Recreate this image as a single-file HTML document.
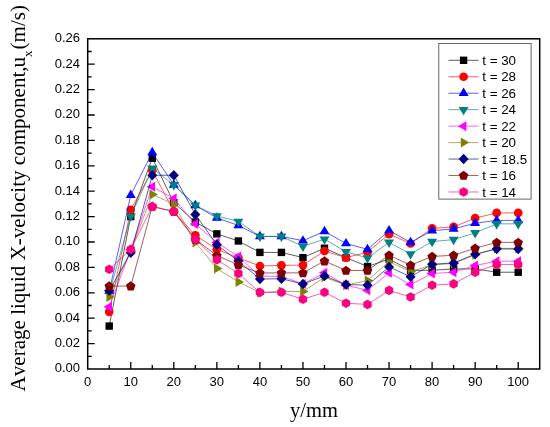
<!DOCTYPE html>
<html><head><meta charset="utf-8"><title>Average liquid X-velocity component</title>
<style>html,body{margin:0;padding:0;background:#fff}svg{display:block}</style></head>
<body>
<svg width="550" height="427" viewBox="0 0 550 427">
<rect width="550" height="427" fill="#fff"/>
<polyline points="109.22,326.07 130.75,216.6 152.27,158.18 173.8,202.63 195.32,222.06 216.85,233.87 238.38,240.98 259.9,252.41 281.43,252.41 302.95,257.62 324.47,248.22 346,257.62 367.52,266.51 389.05,259.02 410.57,270.45 432.1,270.19 453.62,268.92 475.15,268.92 496.67,272.23 518.2,272.23" fill="none" stroke="#000000" stroke-width="0.75" stroke-opacity="0.85"/>
<rect x="105.52" y="322.37" width="7.4" height="7.4" fill="#000000"/>
<rect x="127.05" y="212.9" width="7.4" height="7.4" fill="#000000"/>
<rect x="148.57" y="154.48" width="7.4" height="7.4" fill="#000000"/>
<rect x="170.1" y="198.93" width="7.4" height="7.4" fill="#000000"/>
<rect x="191.62" y="218.36" width="7.4" height="7.4" fill="#000000"/>
<rect x="213.15" y="230.17" width="7.4" height="7.4" fill="#000000"/>
<rect x="234.68" y="237.28" width="7.4" height="7.4" fill="#000000"/>
<rect x="256.2" y="248.71" width="7.4" height="7.4" fill="#000000"/>
<rect x="277.73" y="248.71" width="7.4" height="7.4" fill="#000000"/>
<rect x="299.25" y="253.92" width="7.4" height="7.4" fill="#000000"/>
<rect x="320.77" y="244.52" width="7.4" height="7.4" fill="#000000"/>
<rect x="342.3" y="253.92" width="7.4" height="7.4" fill="#000000"/>
<rect x="363.82" y="262.81" width="7.4" height="7.4" fill="#000000"/>
<rect x="385.35" y="255.32" width="7.4" height="7.4" fill="#000000"/>
<rect x="406.88" y="266.75" width="7.4" height="7.4" fill="#000000"/>
<rect x="428.4" y="266.49" width="7.4" height="7.4" fill="#000000"/>
<rect x="449.92" y="265.22" width="7.4" height="7.4" fill="#000000"/>
<rect x="471.45" y="265.22" width="7.4" height="7.4" fill="#000000"/>
<rect x="492.97" y="268.53" width="7.4" height="7.4" fill="#000000"/>
<rect x="514.5" y="268.53" width="7.4" height="7.4" fill="#000000"/>
<polyline points="109.22,311.85 130.75,209.87 152.27,170.37 173.8,211.52 195.32,235.27 216.85,249.37 238.38,257.88 259.9,266 281.43,265.37 302.95,265.11 324.47,251.02 346,257.62 367.52,252.16 389.05,234.13 410.57,243.52 432.1,228.41 453.62,226.89 475.15,218.12 496.67,212.92 518.2,212.92" fill="none" stroke="#ff0000" stroke-width="0.75" stroke-opacity="0.85"/>
<circle cx="109.22" cy="311.85" r="4.35" fill="#ff0000"/>
<circle cx="130.75" cy="209.87" r="4.35" fill="#ff0000"/>
<circle cx="152.27" cy="170.37" r="4.35" fill="#ff0000"/>
<circle cx="173.8" cy="211.52" r="4.35" fill="#ff0000"/>
<circle cx="195.32" cy="235.27" r="4.35" fill="#ff0000"/>
<circle cx="216.85" cy="249.37" r="4.35" fill="#ff0000"/>
<circle cx="238.38" cy="257.88" r="4.35" fill="#ff0000"/>
<circle cx="259.9" cy="266" r="4.35" fill="#ff0000"/>
<circle cx="281.43" cy="265.37" r="4.35" fill="#ff0000"/>
<circle cx="302.95" cy="265.11" r="4.35" fill="#ff0000"/>
<circle cx="324.47" cy="251.02" r="4.35" fill="#ff0000"/>
<circle cx="346" cy="257.62" r="4.35" fill="#ff0000"/>
<circle cx="367.52" cy="252.16" r="4.35" fill="#ff0000"/>
<circle cx="389.05" cy="234.13" r="4.35" fill="#ff0000"/>
<circle cx="410.57" cy="243.52" r="4.35" fill="#ff0000"/>
<circle cx="432.1" cy="228.41" r="4.35" fill="#ff0000"/>
<circle cx="453.62" cy="226.89" r="4.35" fill="#ff0000"/>
<circle cx="475.15" cy="218.12" r="4.35" fill="#ff0000"/>
<circle cx="496.67" cy="212.92" r="4.35" fill="#ff0000"/>
<circle cx="518.2" cy="212.92" r="4.35" fill="#ff0000"/>
<polyline points="109.22,291.28 130.75,195.14 152.27,152.46 173.8,184.85 195.32,205.42 216.85,217.87 238.38,225.49 259.9,236.41 281.43,236.41 302.95,240.73 324.47,231.33 346,243.52 367.52,249.37 389.05,230.57 410.57,242.38 432.1,230.7 453.62,228.92 475.15,223.2 496.67,220.41 518.2,220.41" fill="none" stroke="#0000ff" stroke-width="0.75" stroke-opacity="0.85"/>
<polygon points="109.22,285.68 114.22,294.08 104.22,294.08" fill="#0000ff"/>
<polygon points="130.75,189.54 135.75,197.94 125.75,197.94" fill="#0000ff"/>
<polygon points="152.27,146.86 157.27,155.26 147.27,155.26" fill="#0000ff"/>
<polygon points="173.8,179.25 178.8,187.65 168.8,187.65" fill="#0000ff"/>
<polygon points="195.32,199.82 200.32,208.22 190.32,208.22" fill="#0000ff"/>
<polygon points="216.85,212.27 221.85,220.67 211.85,220.67" fill="#0000ff"/>
<polygon points="238.38,219.89 243.38,228.29 233.38,228.29" fill="#0000ff"/>
<polygon points="259.9,230.81 264.9,239.21 254.9,239.21" fill="#0000ff"/>
<polygon points="281.43,230.81 286.43,239.21 276.43,239.21" fill="#0000ff"/>
<polygon points="302.95,235.13 307.95,243.53 297.95,243.53" fill="#0000ff"/>
<polygon points="324.47,225.73 329.47,234.13 319.47,234.13" fill="#0000ff"/>
<polygon points="346,237.92 351,246.32 341,246.32" fill="#0000ff"/>
<polygon points="367.52,243.77 372.52,252.17 362.52,252.17" fill="#0000ff"/>
<polygon points="389.05,224.97 394.05,233.37 384.05,233.37" fill="#0000ff"/>
<polygon points="410.57,236.78 415.57,245.18 405.57,245.18" fill="#0000ff"/>
<polygon points="432.1,225.1 437.1,233.5 427.1,233.5" fill="#0000ff"/>
<polygon points="453.62,223.32 458.62,231.72 448.62,231.72" fill="#0000ff"/>
<polygon points="475.15,217.6 480.15,226 470.15,226" fill="#0000ff"/>
<polygon points="496.67,214.81 501.67,223.21 491.67,223.21" fill="#0000ff"/>
<polygon points="518.2,214.81 523.2,223.21 513.2,223.21" fill="#0000ff"/>
<polyline points="109.22,293.18 130.75,216.22 152.27,168.34 173.8,184.85 195.32,205.42 216.85,215.97 238.38,221.43 259.9,236.41 281.43,236.41 302.95,246.32 324.47,239.21 346,251.78 367.52,258 389.05,242.38 410.57,254.06 432.1,241.62 453.62,239.59 475.15,232.86 496.67,223.84 518.2,223.84" fill="none" stroke="#008080" stroke-width="0.75" stroke-opacity="0.85"/>
<polygon points="109.22,298.78 114.22,290.38 104.22,290.38" fill="#008080"/>
<polygon points="130.75,221.82 135.75,213.42 125.75,213.42" fill="#008080"/>
<polygon points="152.27,173.94 157.27,165.54 147.27,165.54" fill="#008080"/>
<polygon points="173.8,190.45 178.8,182.05 168.8,182.05" fill="#008080"/>
<polygon points="195.32,211.02 200.32,202.62 190.32,202.62" fill="#008080"/>
<polygon points="216.85,221.56 221.85,213.16 211.85,213.16" fill="#008080"/>
<polygon points="238.38,227.03 243.38,218.63 233.38,218.63" fill="#008080"/>
<polygon points="259.9,242.01 264.9,233.61 254.9,233.61" fill="#008080"/>
<polygon points="281.43,242.01 286.43,233.61 276.43,233.61" fill="#008080"/>
<polygon points="302.95,251.92 307.95,243.52 297.95,243.52" fill="#008080"/>
<polygon points="324.47,244.81 329.47,236.41 319.47,236.41" fill="#008080"/>
<polygon points="346,257.38 351,248.98 341,248.98" fill="#008080"/>
<polygon points="367.52,263.6 372.52,255.2 362.52,255.2" fill="#008080"/>
<polygon points="389.05,247.98 394.05,239.58 384.05,239.58" fill="#008080"/>
<polygon points="410.57,259.67 415.57,251.26 405.57,251.26" fill="#008080"/>
<polygon points="432.1,247.22 437.1,238.82 427.1,238.82" fill="#008080"/>
<polygon points="453.62,245.19 458.62,236.79 448.62,236.79" fill="#008080"/>
<polygon points="475.15,238.46 480.15,230.06 470.15,230.06" fill="#008080"/>
<polygon points="496.67,229.44 501.67,221.04 491.67,221.04" fill="#008080"/>
<polygon points="518.2,229.44 523.2,221.04 513.2,221.04" fill="#008080"/>
<polyline points="109.22,306.77 130.75,249.62 152.27,186.76 173.8,198.44 195.32,223.97 216.85,242.38 238.38,256.61 259.9,276.29 281.43,276.29 302.95,283.91 324.47,272.86 346,285.18 367.52,290.26 389.05,272.86 410.57,284.55 432.1,273.5 453.62,272.23 475.15,265.5 496.67,261.18 518.2,261.18" fill="none" stroke="#ff00ff" stroke-width="0.75" stroke-opacity="0.85"/>
<polygon points="103.62,306.77 112.02,311.77 112.02,301.77" fill="#ff00ff"/>
<polygon points="125.15,249.62 133.55,254.62 133.55,244.62" fill="#ff00ff"/>
<polygon points="146.67,186.76 155.07,191.76 155.07,181.76" fill="#ff00ff"/>
<polygon points="168.2,198.44 176.6,203.44 176.6,193.44" fill="#ff00ff"/>
<polygon points="189.72,223.97 198.12,228.97 198.12,218.97" fill="#ff00ff"/>
<polygon points="211.25,242.38 219.65,247.38 219.65,237.38" fill="#ff00ff"/>
<polygon points="232.78,256.61 241.18,261.61 241.18,251.61" fill="#ff00ff"/>
<polygon points="254.3,276.29 262.7,281.29 262.7,271.29" fill="#ff00ff"/>
<polygon points="275.82,276.29 284.23,281.29 284.23,271.29" fill="#ff00ff"/>
<polygon points="297.35,283.91 305.75,288.91 305.75,278.91" fill="#ff00ff"/>
<polygon points="318.87,272.86 327.27,277.86 327.27,267.86" fill="#ff00ff"/>
<polygon points="340.4,285.18 348.8,290.18 348.8,280.18" fill="#ff00ff"/>
<polygon points="361.92,290.26 370.32,295.26 370.32,285.26" fill="#ff00ff"/>
<polygon points="383.45,272.86 391.85,277.86 391.85,267.86" fill="#ff00ff"/>
<polygon points="404.97,284.55 413.38,289.55 413.38,279.55" fill="#ff00ff"/>
<polygon points="426.5,273.5 434.9,278.5 434.9,268.5" fill="#ff00ff"/>
<polygon points="448.02,272.23 456.42,277.23 456.42,267.23" fill="#ff00ff"/>
<polygon points="469.55,265.5 477.95,270.5 477.95,260.5" fill="#ff00ff"/>
<polygon points="491.07,261.18 499.47,266.18 499.47,256.18" fill="#ff00ff"/>
<polygon points="512.6,261.18 521,266.18 521,256.18" fill="#ff00ff"/>
<polyline points="109.22,297.12 130.75,250.89 152.27,194.38 173.8,204.15 195.32,242.51 216.85,268.42 238.38,281.88 259.9,292.42 281.43,291.53 302.95,291.53 324.47,277.31 346,285.18 367.52,280.48 389.05,261.69 410.57,271.59 432.1,264.86 453.62,263.59 475.15,254.7 496.67,248.35 518.2,248.35" fill="none" stroke="#808000" stroke-width="0.75" stroke-opacity="0.85"/>
<polygon points="114.82,297.12 106.42,302.12 106.42,292.12" fill="#808000"/>
<polygon points="136.35,250.89 127.95,255.89 127.95,245.89" fill="#808000"/>
<polygon points="157.87,194.38 149.47,199.38 149.47,189.38" fill="#808000"/>
<polygon points="179.4,204.15 171,209.15 171,199.15" fill="#808000"/>
<polygon points="200.92,242.51 192.52,247.51 192.52,237.51" fill="#808000"/>
<polygon points="222.45,268.42 214.05,273.42 214.05,263.42" fill="#808000"/>
<polygon points="243.97,281.88 235.57,286.88 235.57,276.88" fill="#808000"/>
<polygon points="265.5,292.42 257.1,297.42 257.1,287.42" fill="#808000"/>
<polygon points="287.03,291.53 278.62,296.53 278.62,286.53" fill="#808000"/>
<polygon points="308.55,291.53 300.15,296.53 300.15,286.53" fill="#808000"/>
<polygon points="330.07,277.31 321.67,282.31 321.67,272.31" fill="#808000"/>
<polygon points="351.6,285.18 343.2,290.18 343.2,280.18" fill="#808000"/>
<polygon points="373.12,280.48 364.72,285.48 364.72,275.48" fill="#808000"/>
<polygon points="394.65,261.69 386.25,266.69 386.25,256.69" fill="#808000"/>
<polygon points="416.18,271.59 407.77,276.59 407.77,266.59" fill="#808000"/>
<polygon points="437.7,264.86 429.3,269.86 429.3,259.86" fill="#808000"/>
<polygon points="459.22,263.59 450.82,268.59 450.82,258.59" fill="#808000"/>
<polygon points="480.75,254.7 472.35,259.7 472.35,249.7" fill="#808000"/>
<polygon points="502.27,248.35 493.87,253.35 493.87,243.35" fill="#808000"/>
<polygon points="523.8,248.35 515.4,253.35 515.4,243.35" fill="#808000"/>
<polyline points="109.22,290.64 130.75,252.8 152.27,175.33 173.8,175.2 195.32,214.44 216.85,244.79 238.38,261.05 259.9,279.08 281.43,278.7 302.95,284.04 324.47,275.91 346,284.55 367.52,285.18 389.05,266.89 410.57,276.8 432.1,264.23 453.62,262.95 475.15,254.19 496.67,248.99 518.2,248.99" fill="none" stroke="#000080" stroke-width="0.75" stroke-opacity="0.85"/>
<polygon points="109.22,285.44 114.22,290.64 109.22,295.84 104.22,290.64" fill="#000080"/>
<polygon points="130.75,247.6 135.75,252.8 130.75,258 125.75,252.8" fill="#000080"/>
<polygon points="152.27,170.13 157.27,175.33 152.27,180.53 147.27,175.33" fill="#000080"/>
<polygon points="173.8,170 178.8,175.2 173.8,180.4 168.8,175.2" fill="#000080"/>
<polygon points="195.32,209.24 200.32,214.44 195.32,219.64 190.32,214.44" fill="#000080"/>
<polygon points="216.85,239.59 221.85,244.79 216.85,249.99 211.85,244.79" fill="#000080"/>
<polygon points="238.38,255.85 243.38,261.05 238.38,266.25 233.38,261.05" fill="#000080"/>
<polygon points="259.9,273.88 264.9,279.08 259.9,284.28 254.9,279.08" fill="#000080"/>
<polygon points="281.43,273.5 286.43,278.7 281.43,283.9 276.43,278.7" fill="#000080"/>
<polygon points="302.95,278.84 307.95,284.04 302.95,289.24 297.95,284.04" fill="#000080"/>
<polygon points="324.47,270.71 329.47,275.91 324.47,281.11 319.47,275.91" fill="#000080"/>
<polygon points="346,279.35 351,284.55 346,289.75 341,284.55" fill="#000080"/>
<polygon points="367.52,279.98 372.52,285.18 367.52,290.38 362.52,285.18" fill="#000080"/>
<polygon points="389.05,261.69 394.05,266.89 389.05,272.09 384.05,266.89" fill="#000080"/>
<polygon points="410.57,271.6 415.57,276.8 410.57,282 405.57,276.8" fill="#000080"/>
<polygon points="432.1,259.03 437.1,264.23 432.1,269.43 427.1,264.23" fill="#000080"/>
<polygon points="453.62,257.75 458.62,262.95 453.62,268.15 448.62,262.95" fill="#000080"/>
<polygon points="475.15,248.99 480.15,254.19 475.15,259.39 470.15,254.19" fill="#000080"/>
<polygon points="496.67,243.79 501.67,248.99 496.67,254.19 491.67,248.99" fill="#000080"/>
<polygon points="518.2,243.79 523.2,248.99 518.2,254.19 513.2,248.99" fill="#000080"/>
<polyline points="109.22,286.07 130.75,286.07 152.27,206.44 173.8,211.52 195.32,239.46 216.85,255.46 238.38,264.99 259.9,272.99 281.43,272.86 302.95,272.86 324.47,261.05 346,270.45 367.52,270.45 389.05,255.21 410.57,265.11 432.1,256.48 453.62,255.21 475.15,248.22 496.67,242.38 518.2,242.38" fill="none" stroke="#800000" stroke-width="0.75" stroke-opacity="0.85"/>
<polygon points="109.22,281.37 113.98,284.82 112.16,290.41 106.29,290.41 104.47,284.82" fill="#800000"/>
<polygon points="130.75,281.37 135.51,284.82 133.69,290.41 127.81,290.41 125.99,284.82" fill="#800000"/>
<polygon points="152.27,201.74 157.03,205.19 155.21,210.79 149.34,210.79 147.52,205.19" fill="#800000"/>
<polygon points="173.8,206.82 178.56,210.27 176.74,215.87 170.86,215.87 169.04,210.27" fill="#800000"/>
<polygon points="195.32,234.76 200.08,238.21 198.26,243.81 192.39,243.81 190.57,238.21" fill="#800000"/>
<polygon points="216.85,250.76 221.61,254.22 219.79,259.81 213.91,259.81 212.09,254.22" fill="#800000"/>
<polygon points="238.38,260.29 243.13,263.74 241.31,269.33 235.44,269.33 233.62,263.74" fill="#800000"/>
<polygon points="259.9,268.29 264.66,271.74 262.84,277.33 256.96,277.33 255.14,271.74" fill="#800000"/>
<polygon points="281.43,268.16 286.18,271.62 284.36,277.21 278.49,277.21 276.67,271.62" fill="#800000"/>
<polygon points="302.95,268.16 307.71,271.62 305.89,277.21 300.01,277.21 298.19,271.62" fill="#800000"/>
<polygon points="324.47,256.35 329.23,259.8 327.41,265.4 321.54,265.4 319.72,259.8" fill="#800000"/>
<polygon points="346,265.75 350.76,269.2 348.94,274.79 343.06,274.79 341.24,269.2" fill="#800000"/>
<polygon points="367.52,265.75 372.28,269.2 370.46,274.79 364.59,274.79 362.77,269.2" fill="#800000"/>
<polygon points="389.05,250.51 393.81,253.96 391.99,259.55 386.11,259.55 384.29,253.96" fill="#800000"/>
<polygon points="410.57,260.41 415.33,263.87 413.51,269.46 407.64,269.46 405.82,263.87" fill="#800000"/>
<polygon points="432.1,251.78 436.86,255.23 435.04,260.82 429.16,260.82 427.34,255.23" fill="#800000"/>
<polygon points="453.62,250.51 458.38,253.96 456.56,259.55 450.69,259.55 448.87,253.96" fill="#800000"/>
<polygon points="475.15,243.52 479.91,246.98 478.09,252.57 472.21,252.57 470.39,246.98" fill="#800000"/>
<polygon points="496.67,237.68 501.43,241.14 499.61,246.73 493.74,246.73 491.92,241.14" fill="#800000"/>
<polygon points="518.2,237.68 522.96,241.14 521.14,246.73 515.26,246.73 513.44,241.14" fill="#800000"/>
<polyline points="109.22,269.31 130.75,249.37 152.27,206.57 173.8,211.52 195.32,239.46 216.85,259.78 238.38,273.5 259.9,292.42 281.43,292.29 302.95,299.28 324.47,292.29 346,303.21 367.52,304.48 389.05,290.39 410.57,296.99 432.1,285.18 453.62,283.91 475.15,272.23 496.67,264.48 518.2,264.48" fill="none" stroke="#ff0080" stroke-width="0.75" stroke-opacity="0.85"/>
<polygon points="109.22,264.5 113.38,266.91 113.38,271.7 109.22,274.11 105.07,271.7 105.07,266.91" fill="#ff0080"/>
<polygon points="130.75,244.57 134.91,246.97 134.91,251.77 130.75,254.17 126.59,251.77 126.59,246.97" fill="#ff0080"/>
<polygon points="152.27,201.77 156.43,204.17 156.43,208.97 152.27,211.37 148.12,208.97 148.12,204.17" fill="#ff0080"/>
<polygon points="173.8,206.72 177.96,209.12 177.96,213.92 173.8,216.32 169.64,213.92 169.64,209.12" fill="#ff0080"/>
<polygon points="195.32,234.66 199.48,237.06 199.48,241.86 195.32,244.26 191.17,241.86 191.17,237.06" fill="#ff0080"/>
<polygon points="216.85,254.98 221.01,257.38 221.01,262.18 216.85,264.58 212.69,262.18 212.69,257.38" fill="#ff0080"/>
<polygon points="238.38,268.7 242.53,271.1 242.53,275.9 238.38,278.3 234.22,275.9 234.22,271.1" fill="#ff0080"/>
<polygon points="259.9,287.62 264.06,290.02 264.06,294.82 259.9,297.22 255.74,294.82 255.74,290.02" fill="#ff0080"/>
<polygon points="281.43,287.49 285.58,289.89 285.58,294.69 281.43,297.09 277.27,294.69 277.27,289.89" fill="#ff0080"/>
<polygon points="302.95,294.48 307.11,296.88 307.11,301.68 302.95,304.08 298.79,301.68 298.79,296.88" fill="#ff0080"/>
<polygon points="324.47,287.49 328.63,289.89 328.63,294.69 324.47,297.09 320.32,294.69 320.32,289.89" fill="#ff0080"/>
<polygon points="346,298.41 350.16,300.81 350.16,305.61 346,308.01 341.84,305.61 341.84,300.81" fill="#ff0080"/>
<polygon points="367.52,299.68 371.68,302.08 371.68,306.88 367.52,309.28 363.37,306.88 363.37,302.08" fill="#ff0080"/>
<polygon points="389.05,285.59 393.21,287.99 393.21,292.79 389.05,295.19 384.89,292.79 384.89,287.99" fill="#ff0080"/>
<polygon points="410.57,292.19 414.73,294.59 414.73,299.39 410.57,301.79 406.42,299.39 406.42,294.59" fill="#ff0080"/>
<polygon points="432.1,280.38 436.26,282.78 436.26,287.58 432.1,289.98 427.94,287.58 427.94,282.78" fill="#ff0080"/>
<polygon points="453.62,279.11 457.78,281.51 457.78,286.31 453.62,288.71 449.47,286.31 449.47,281.51" fill="#ff0080"/>
<polygon points="475.15,267.43 479.31,269.83 479.31,274.63 475.15,277.03 470.99,274.63 470.99,269.83" fill="#ff0080"/>
<polygon points="496.67,259.68 500.83,262.08 500.83,266.88 496.67,269.28 492.52,266.88 492.52,262.08" fill="#ff0080"/>
<polygon points="518.2,259.68 522.36,262.08 522.36,266.88 518.2,269.28 514.04,266.88 514.04,262.08" fill="#ff0080"/>
<rect x="87.7" y="38.8" width="452.00000000000006" height="330.2" fill="none" stroke="#000" stroke-width="1.5"/>
<path d="M87.7 356.3h4M87.7 343.6h7M87.7 330.9h4M87.7 318.2h7M87.7 305.5h4M87.7 292.8h7M87.7 280.1h4M87.7 267.4h7M87.7 254.7h4M87.7 242h7M87.7 229.3h4M87.7 216.6h7M87.7 203.9h4M87.7 191.2h7M87.7 178.5h4M87.7 165.8h7M87.7 153.1h4M87.7 140.4h7M87.7 127.7h4M87.7 115h7M87.7 102.3h4M87.7 89.6h7M87.7 76.9h4M87.7 64.2h7M87.7 51.5h4M109.22 369.0v-4M130.75 369.0v-7M152.27 369.0v-4M173.8 369.0v-7M195.32 369.0v-4M216.85 369.0v-7M238.38 369.0v-4M259.9 369.0v-7M281.43 369.0v-4M302.95 369.0v-7M324.47 369.0v-4M346 369.0v-7M367.52 369.0v-4M389.05 369.0v-7M410.57 369.0v-4M432.1 369.0v-7M453.62 369.0v-4M475.15 369.0v-7M496.67 369.0v-4M518.2 369.0v-7" stroke="#000" stroke-width="1.3" fill="none"/>
<g font-family="'Liberation Sans', Arial, sans-serif" font-size="13" fill="#000">
<text x="80" y="372.4" text-anchor="end">0.00</text>
<text x="80" y="347" text-anchor="end">0.02</text>
<text x="80" y="321.6" text-anchor="end">0.04</text>
<text x="80" y="296.2" text-anchor="end">0.06</text>
<text x="80" y="270.8" text-anchor="end">0.08</text>
<text x="80" y="245.4" text-anchor="end">0.10</text>
<text x="80" y="220" text-anchor="end">0.12</text>
<text x="80" y="194.6" text-anchor="end">0.14</text>
<text x="80" y="169.2" text-anchor="end">0.16</text>
<text x="80" y="143.8" text-anchor="end">0.18</text>
<text x="80" y="118.4" text-anchor="end">0.20</text>
<text x="80" y="93" text-anchor="end">0.22</text>
<text x="80" y="67.6" text-anchor="end">0.24</text>
<text x="80" y="42.2" text-anchor="end">0.26</text>
<text x="87.7" y="385.7" text-anchor="middle">0</text>
<text x="130.75" y="385.7" text-anchor="middle">10</text>
<text x="173.8" y="385.7" text-anchor="middle">20</text>
<text x="216.85" y="385.7" text-anchor="middle">30</text>
<text x="259.9" y="385.7" text-anchor="middle">40</text>
<text x="302.95" y="385.7" text-anchor="middle">50</text>
<text x="346" y="385.7" text-anchor="middle">60</text>
<text x="389.05" y="385.7" text-anchor="middle">70</text>
<text x="432.1" y="385.7" text-anchor="middle">80</text>
<text x="475.15" y="385.7" text-anchor="middle">90</text>
<text x="518.2" y="385.7" text-anchor="middle">100</text>
</g>
<rect x="438.8" y="43.5" width="92.3" height="155.6" fill="#fff" stroke="#555" stroke-width="0.9"/>
<path d="M448.5 60.3H478.5" stroke="#000000" stroke-width="0.75" stroke-opacity="0.85"/>
<rect x="459.9" y="56.6" width="7.4" height="7.4" fill="#000000"/>
<text x="482.2" y="64.9" font-family="'Liberation Sans', Arial, sans-serif" font-size="13.4" fill="#000">t = 30</text>
<path d="M448.5 76.76H478.5" stroke="#ff0000" stroke-width="0.75" stroke-opacity="0.85"/>
<circle cx="463.6" cy="76.76" r="4.35" fill="#ff0000"/>
<text x="482.2" y="81.36" font-family="'Liberation Sans', Arial, sans-serif" font-size="13.4" fill="#000">t = 28</text>
<path d="M448.5 93.22H478.5" stroke="#0000ff" stroke-width="0.75" stroke-opacity="0.85"/>
<polygon points="463.6,87.62 468.6,96.02 458.6,96.02" fill="#0000ff"/>
<text x="482.2" y="97.82" font-family="'Liberation Sans', Arial, sans-serif" font-size="13.4" fill="#000">t = 26</text>
<path d="M448.5 109.68H478.5" stroke="#008080" stroke-width="0.75" stroke-opacity="0.85"/>
<polygon points="463.6,115.28 468.6,106.88 458.6,106.88" fill="#008080"/>
<text x="482.2" y="114.28" font-family="'Liberation Sans', Arial, sans-serif" font-size="13.4" fill="#000">t = 24</text>
<path d="M448.5 126.14H478.5" stroke="#ff00ff" stroke-width="0.75" stroke-opacity="0.85"/>
<polygon points="458,126.14 466.4,131.14 466.4,121.14" fill="#ff00ff"/>
<text x="482.2" y="130.74" font-family="'Liberation Sans', Arial, sans-serif" font-size="13.4" fill="#000">t = 22</text>
<path d="M448.5 142.6H478.5" stroke="#808000" stroke-width="0.75" stroke-opacity="0.85"/>
<polygon points="469.2,142.6 460.8,147.6 460.8,137.6" fill="#808000"/>
<text x="482.2" y="147.2" font-family="'Liberation Sans', Arial, sans-serif" font-size="13.4" fill="#000">t = 20</text>
<path d="M448.5 159.06H478.5" stroke="#000080" stroke-width="0.75" stroke-opacity="0.85"/>
<polygon points="463.6,153.86 468.6,159.06 463.6,164.26 458.6,159.06" fill="#000080"/>
<text x="482.2" y="163.66" font-family="'Liberation Sans', Arial, sans-serif" font-size="13.4" fill="#000">t = 18.5</text>
<path d="M448.5 175.52H478.5" stroke="#800000" stroke-width="0.75" stroke-opacity="0.85"/>
<polygon points="463.6,170.82 468.36,174.27 466.54,179.87 460.66,179.87 458.84,174.27" fill="#800000"/>
<text x="482.2" y="180.12" font-family="'Liberation Sans', Arial, sans-serif" font-size="13.4" fill="#000">t = 16</text>
<path d="M448.5 191.98H478.5" stroke="#ff0080" stroke-width="0.75" stroke-opacity="0.85"/>
<polygon points="463.6,187.18 467.76,189.58 467.76,194.38 463.6,196.78 459.44,194.38 459.44,189.58" fill="#ff0080"/>
<text x="482.2" y="196.58" font-family="'Liberation Sans', Arial, sans-serif" font-size="13.4" fill="#000">t = 14</text>
<text x="314" y="417" text-anchor="middle" font-family="'Liberation Serif', 'Times New Roman', serif" font-size="20.5" fill="#000">y/mm</text>
<text transform="translate(24.6,391.4) rotate(-90)" font-family="'Liberation Serif', 'Times New Roman', serif" font-size="21.06" fill="#000" style="font-kerning:none" id="ylab">Average liquid X-velocity component,<tspan dx="-1">u</tspan><tspan font-size="13" dy="7">x</tspan><tspan dy="-7" dx="1">(m/s)</tspan></text>
</svg>
</body></html>
